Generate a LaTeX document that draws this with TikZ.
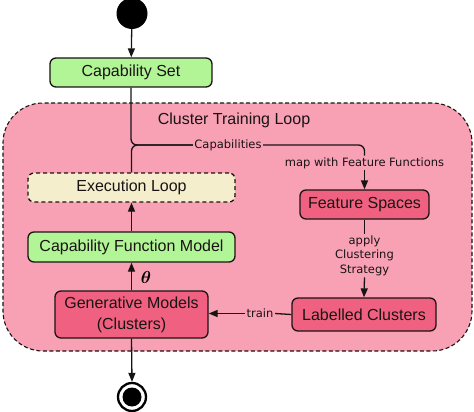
\documentclass[tikz,border=0pt]{standalone}
\usepackage{fontspec}
\usepackage{amsmath}
\setmainfont{Liberation Sans}
\newfontfamily\lblfont{DejaVu Sans}
\usetikzlibrary{arrows.meta}
\definecolor{bgpink}{RGB}{248,160,180}
\definecolor{boxpink}{RGB}{240,96,128}
\definecolor{boxgreen}{RGB}{178,245,150}
\definecolor{boxcream}{RGB}{245,238,205}
\definecolor{edgec}{RGB}{25,20,20}
\tikzset{
  base/.style={draw=edgec, line width=1.3pt, rounded corners=6pt, inner sep=0pt,
    font=\fontsize{16}{21}\selectfont, text=edgec},
  greenbox/.style={base, fill=boxgreen},
  pinkbox/.style={base, fill=boxpink},
  creambox/.style={base, fill=boxcream, dashed, dash pattern=on 4pt off 3pt},
  lbl/.style={inner sep=1.5pt, font=\lblfont\fontsize{11.5}{14.5}\selectfont, text=edgec, align=center},
  conn/.style={draw=edgec, line width=1.3pt},
  arr/.style={conn, -{Triangle[length=9pt,width=7pt]}},
}
\begin{document}
\begin{tikzpicture}[x=1pt,y=-1pt]
\useasboundingbox (0,0) rectangle (474,412);
% container
\node[draw=edgec, line width=1.1pt, dashed, dash pattern=on 4pt off 2.5pt, fill=bgpink,
  rounded corners=40pt, minimum width=469pt, minimum height=248pt, inner sep=0pt]
  (loop) at (237.5,227) {};
\node[font=\fontsize{16}{20}\selectfont, text=edgec] (looptitle) at (234,120) {Cluster Training Loop};
% start / end
\node[circle, fill=black, minimum size=31pt, inner sep=0pt] (start) at (132,13.5) {};
\node[circle, draw=black, fill=white, line width=2.3pt, minimum size=28pt, inner sep=0pt] (stop) at (132,397) {};
\node[circle, fill=black, minimum size=19pt, inner sep=0pt] (stopin) at (132,397) {};
% boxes
\node[greenbox, minimum width=162pt, minimum height=29pt] (capset) at (131,72.5) {Capability Set};
\node[creambox, minimum width=207pt, minimum height=29pt] (exec) at (131.5,187.5) {Execution Loop};
\node[greenbox, minimum width=207pt, minimum height=30pt] (cfm) at (131.5,247) {Capability Function Model};
\node[pinkbox, minimum width=153pt, minimum height=47pt, align=center] (gen) at (131.5,314.5) {Generative Models\\(Clusters)};
\node[pinkbox, minimum width=129pt, minimum height=29pt] (feat) at (364.5,204.5) {Feature Spaces};
\node[pinkbox, minimum width=144pt, minimum height=33pt] (lab) at (364,314.5) {Labelled Clusters};
% labels
\node[lbl] (capab) at (228,145) {Capabilities};
\node[lbl] (map) at (364.5,163) {map with Feature Functions};
\node[lbl] (apply) at (364.5,255.5) {apply\\Clustering\\Strategy};
\node[lbl] (train) at (260,313.5) {train};
\node[font=\fontsize{16}{18}\selectfont] (theta) at (146,277) {$\boldsymbol{\theta}$};
% connectors
\draw[arr] (start) -- (capset);
\draw[conn, rounded corners=6pt] (capset.south) |- (capab.west);
\draw[conn, rounded corners=6pt] (exec.north) |- (capab.west);
\draw[conn, rounded corners=6pt] (capab.east) -| (map.north);
\draw[arr] (map.south) -- (feat.north);
\draw[conn] (feat.south) -- (apply.north);
\draw[arr] (apply.south) -- (lab.north);
\draw[conn] (lab.west) -- (train.east);
\draw[arr] (train.west) -- (gen.east |- train.west);
\draw[arr] (gen.north) -- (cfm.south);
\draw[arr] (cfm.north) -- (exec.south);
\draw[arr] (gen.south) -- (stop.north);
\end{tikzpicture}
\end{document}
